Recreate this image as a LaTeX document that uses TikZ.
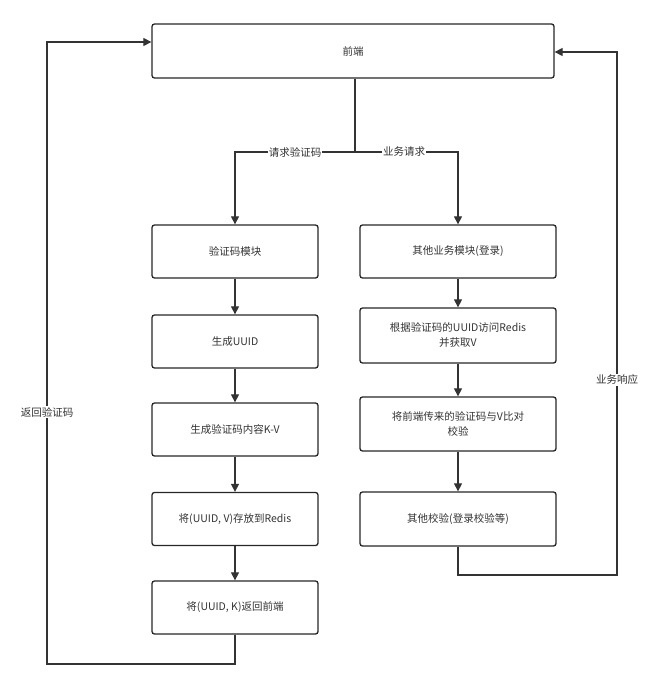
\documentclass[tikz,border=0pt]{standalone}
\usepackage{fontspec}
\setmainfont{Noto Sans CJK SC}
\usetikzlibrary{arrows.meta}
\begin{document}
\begin{tikzpicture}[x=1pt,y=-1pt,
  box/.style={draw=black!85,line width=1.3pt,rounded corners=2.5pt,align=center,font=\fontsize{10.5}{15}\selectfont,text=black!80},
  arr/.style={draw=black!80,line width=1.2pt,-{Triangle[length=8pt,width=8pt]}},
  ln/.style={draw=black!80,line width=1.2pt},
  lab/.style={fill=white,inner sep=1pt,font=\fontsize{10.5}{13}\selectfont,text=black!80}]
\useasboundingbox (0,0) rectangle (658,690);
\node[box,minimum width=402pt,minimum height=54pt] (fe) at (353,51) {前端};
\foreach \n/\y/\t in {a/251.5/{验证码模块},b/341.5/{生成UUID},c/429.5/{生成验证码内容K-V},d/519/{将(UUID, V)存放到Redis},e/607.5/{将(UUID, K)返回前端}}
  \node[box,minimum width=166pt,minimum height=53pt] (\n) at (235,\y) {\t};
\node[box,minimum width=196pt,minimum height=53pt] (p) at (458,251.5) {其他业务模块(登录)};
\node[box,minimum width=196pt,minimum height=55pt] (q) at (458,335.5) {根据验证码的UUID访问Redis\\并获取V};
\node[box,minimum width=196pt,minimum height=54pt] (r) at (458,424) {将前端传来的验证码与V比对\\校验};
\node[box,minimum width=196pt,minimum height=54pt] (s) at (458,519) {其他校验(登录校验等)};
\coordinate (br) at (355,152);
\draw[ln] (fe.south -| br) -- (br);
\draw[arr] (br) -- (235,152) -- (a.north);
\draw[arr] (br) -- (458,152) -- (p.north);
\node[lab] at (295,152) {请求验证码};
\node[lab] at (404,152) {业务请求};
\draw[arr] (a) -- (b); \draw[arr] (b) -- (c); \draw[arr] (c) -- (d); \draw[arr] (d) -- (e);
\draw[arr] (p) -- (q); \draw[arr] (q) -- (r); \draw[arr] (r) -- (s);
\draw[arr] (e.south) -- (235,664) -- (47,664) -- (47,42) -- (fe.west |- 0,42);
\draw[arr] (s.south) -- (458,575) -- (617,575) -- (617,52) -- (fe.east |- 0,52);
\node[lab] at (47,412) {返回验证码};
\node[lab] at (617,380) {业务响应};
\end{tikzpicture}
\end{document}
